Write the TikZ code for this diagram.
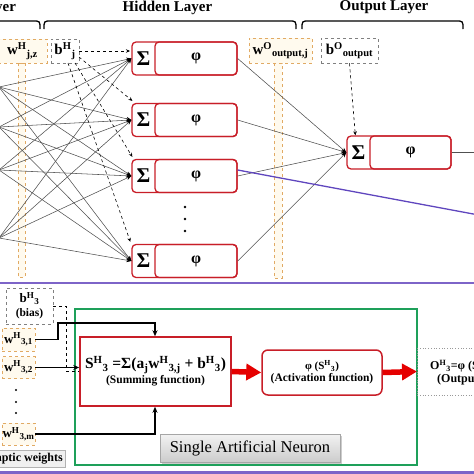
\documentclass[tikz,border=0pt]{standalone}
\usepackage{fontspec}
\setmainfont{Liberation Serif}
\usetikzlibrary{arrows.meta,shadows,calc}
\definecolor{nred}{RGB}{200,30,40}
\definecolor{worange}{RGB}{225,170,100}
\definecolor{wfill}{RGB}{255,250,238}
\definecolor{purp}{RGB}{95,70,190}
\definecolor{hpurp}{RGB}{125,100,200}
\definecolor{ngreen}{RGB}{30,160,90}
\definecolor{lgray}{RGB}{80,80,80}
\newcommand{\supsub}[2]{\textsuperscript{#1}\textsubscript{#2}}
\tikzset{
  fnt/.style={font=\fontsize{#1}{#1}\selectfont\bfseries},
  title/.style={fnt=15},
  wbox/.style={draw=worange, dashed, fill=wfill, line width=0.8pt},
  bbox/.style={draw=gray, dashed, line width=0.8pt},
  wstrip/.style={draw=worange, dashed, fill=wfill, line width=0.6pt},
  outer/.style={draw=nred, line width=1.3pt, rounded corners=4pt, minimum width=105pt, minimum height=33pt, inner sep=0pt},
  phibox/.style={draw=nred, line width=1.3pt, rounded corners=4pt, minimum width=82pt, minimum height=33pt, inner sep=0pt, fnt=16},
  sig/.style={fnt=21, inner sep=0pt},
  conn/.style={draw=lgray, line width=0.55pt, -{Stealth[length=5pt,width=4pt,black]}},
  bconn/.style={draw=black, line width=0.6pt, dashed, -{Stealth[length=4pt,width=3.5pt]}},
  plain/.style={draw=lgray, line width=0.55pt},
  blk/.style={draw=black, line width=1.3pt, -{Stealth[length=6pt,width=5pt]}},
  bigred/.style={draw=red!90!black, line width=5.5pt, -{Triangle[length=15pt,width=16pt]}},
  brace/.style={draw=black, line width=1.3pt},
}
\begin{document}
\begin{tikzpicture}[x=1pt,y=-1pt]
\useasboundingbox (0,0) rectangle (474,474);
\clip (0,0) rectangle (474,474);

% titles and braces
\node[title, anchor=east] (tin) at (19.5,8) {Input Layer};
\node[title] (thid) at (167.5,8) {Hidden Layer};
\node[title] (tout) at (384,7.5) {Output Layer};
\draw[brace] (-90,21) -- (33,21) .. controls (40,21) .. (40,29);
\draw[brace] (44,29) .. controls (44,21) .. (51,21) -- (289,21) .. controls (296,21) .. (296,29);
\draw[brace] (302,29) .. controls (302,21) .. (309,21) -- (456,21) .. controls (463,21) .. (463,29);

% weight strips and boxes
\draw[wstrip] (18,63) rectangle (25,277);
\draw[wstrip] (274,63) rectangle (282,278);
\node[wbox, minimum width=49pt, minimum height=24pt, fnt=15] (whjz) at (22.5,51) {w\supsub{H}{j,z}};
\node[bbox, minimum width=28pt, minimum height=24pt, fnt=15] (bhj) at (65,51) {b\supsub{H}{j}};
\node[wbox, minimum width=63pt, minimum height=25pt, fnt=15] (wo) at (280.5,50.5) {w\supsub{O}{output,j}};
\node[bbox, minimum width=57pt, minimum height=25pt, fnt=15] (bo) at (349.5,50.5) {b\supsub{O}{output}};

% input points
\coordinate (in1) at (-1,87);
\coordinate (in2) at (-1,127);
\coordinate (in3) at (-1,170);
\coordinate (in4) at (-1,238);

% hidden neurons
\foreach \n/\yy in {1/58.5,2/120,3/176,4/261}{
  \node[outer] (h\n) at (184.5,\yy) {};
  \node[phibox] (p\n) at (196,\yy) {φ};
  \node[sig] (s\n) at (143.5,\yy) {Σ};
}
\fill (185,207) circle (1.3pt);
\fill (185,219) circle (1.3pt);
\fill (185,231) circle (1.3pt);

% input -> hidden
\foreach \i in {1,...,4}{
  \foreach \j in {1,...,4}{
    \draw[conn] (in\i) -- (h\j.west);
  }
}

% bias dashed arrows
\draw[bconn] (79,51) -- (130,51);
\draw[bconn] (79,57) -- ($(h2.north west)+(1,-2)$);
\draw[bconn] (75,63) -- ($(h3.north west)+(1,-2)$);
\draw[bconn] (68,63) -- ($(h4.north west)+(-1,-2)$);

% output neuron
\node[outer, minimum width=104pt] (o) at (399,152.5) {};
\node[phibox, minimum width=81pt] (op) at (410.5,152.5) {φ};
\node[sig] (os) at (358.5,152.5) {Σ};
\foreach \j in {1,...,4}{
  \draw[conn] (h\j.east) -- (o.west);
}
\draw[bconn] (bo.south) -- ($(o.north west)+(9,0)$);
\coordinate (oend) at (476,152.5);
\draw[plain] (o.east) -- (oend);
\coordinate (pend) at (476,214.5);
\draw[draw=purp, line width=1.3pt] ($(h3.east)+(0,-6)$) -- (pend);

% separator lines
\draw[draw=hpurp, line width=2.5pt] (-2,283) -- (476,283);
\draw[draw=hpurp, line width=2.5pt] (-2,472.5) -- (476,472.5);

% bottom: single neuron
\draw[draw=ngreen, line width=1.5pt] (75,309) rectangle (417,465);
\node[bbox, minimum width=47pt, minimum height=36pt, align=center, inner sep=1pt] (b3) at (29.5,306)
  {{\fontsize{13}{13}\selectfont\bfseries b\supsub{H}{3}}\\[2pt]{\fontsize{11.5}{12}\selectfont\bfseries (bias)}};
\node[wbox, minimum width=33pt, minimum height=23pt, fnt=13, inner sep=0pt] (w1) at (18.5,339.5) {w\supsub{H}{3,1}};
\node[wbox, minimum width=33pt, minimum height=22pt, fnt=13, inner sep=0pt] (w2) at (18.5,367.5) {w\supsub{H}{3,2}};
\node[wbox, minimum width=33pt, minimum height=22pt, fnt=13, inner sep=0pt] (wm) at (18.5,434) {w\supsub{H}{3,m}};
\fill (16,390) circle (1.2pt);
\fill (16,402) circle (1.2pt);
\fill (16,413) circle (1.2pt);
\node[draw=gray!60, fill=gray!12, minimum height=17pt, anchor=east, fnt=12, inner sep=2pt] (syn) at (65,458.5) {Synaptic weights};

\node[draw=nred, line width=1.5pt, minimum width=151pt, minimum height=69pt, align=center, inner sep=0pt] (S) at (155.5,371.5)
  {{\fontsize{15.5}{16}\selectfont\bfseries S\supsub{H}{3} =Σ(a\textsubscript{j}w\supsub{H}{3,j} + b\supsub{H}{3})}\\[1pt]
   {\fontsize{11.5}{12}\selectfont\bfseries (Summing function)}};
\node[draw=nred, line width=1.5pt, rounded corners=6pt, minimum width=120pt, minimum height=45pt, align=center, inner sep=0pt] (A) at (322,372.5)
  {{\fontsize{11}{12}\selectfont\bfseries φ (S\supsub{H}{3})}\\[0pt]
   {\fontsize{11.5}{12}\selectfont\bfseries (Activation function)}};
\node[draw=gray!80, dotted, line width=0.7pt, minimum width=70pt, minimum height=47pt, anchor=west, inner sep=0pt] (O) at (417,371.5) {};
\node[anchor=west, fnt=12, inner sep=0pt] (ot1) at (430,366) {O\supsub{H}{3}=φ (S\supsub{H}{3})};
\node[anchor=west, fnt=12, inner sep=0pt] (ot2) at (437,380) {(Output)};

\draw[blk] (w1.east) -- (58,339.5) -- (58,323) -- (155,323) -- (S.north -| 155,0);
\draw[blk] (w2.east) -- (w2.east -| S.west);
\draw[blk] (wm.east) -- (155,434) -- (S.south -| 155,0);
\draw[draw=black, dashed, line width=0.6pt] (b3.east) -- (66,306) -- (66,371) -- (S.west |- 0,371);
\draw[bigred] (S.east) -- (A.west);
\draw[bigred] (A.east) -- (O.west);

\node[draw=gray!70, top color=gray!10, bottom color=gray!40, drop shadow={opacity=0.4, shadow xshift=1.5pt, shadow yshift=-1.5pt}, minimum width=180pt, minimum height=28pt, font=\fontsize{16.5}{17}\selectfont] (lab) at (250,448) {Single Artificial Neuron};
\end{tikzpicture}
\end{document}
